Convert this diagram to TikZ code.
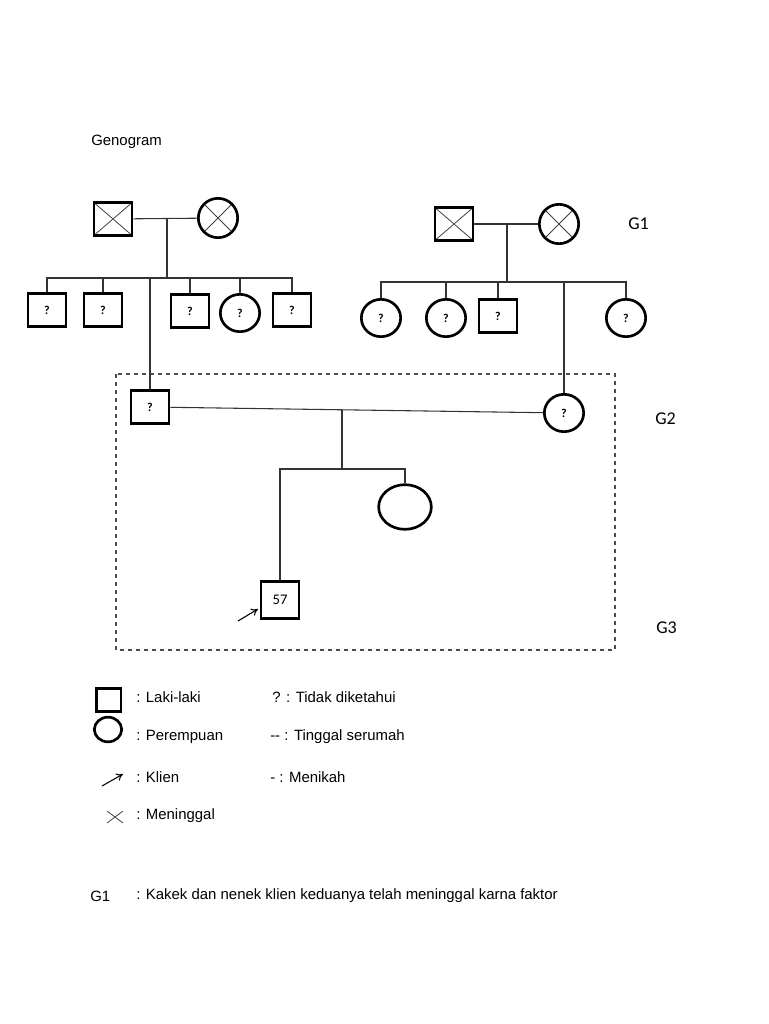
\documentclass[tikz,border=0pt]{standalone}
\usepackage{fontspec}
\setmainfont{Liberation Sans}
\newfontfamily\calibri{Carlito}
\usetikzlibrary{shapes.geometric, arrows.meta}

\tikzset{
  male/.style={draw, rectangle, line width=2pt, inner sep=0pt, minimum width=28.5pt, minimum height=24.5pt, font=\calibri\bfseries\fontsize{9}{10}\selectfont},
  female/.style={draw, ellipse, line width=2pt, inner sep=0pt, minimum width=29.5pt, minimum height=28pt, font=\calibri\bfseries\fontsize{9}{10}\selectfont},
  dead/.style={path picture={\draw[line width=0.6pt, black!75] (path picture bounding box.north west) -- (path picture bounding box.south east) (path picture bounding box.south west) -- (path picture bounding box.north east);}},
  link/.style={line width=0.8pt, black!80},
  pointer/.style={-{To[length=5pt, width=6pt]}, line width=0.8pt},
  gen/.style={font=\calibri\fontsize{13.5}{16}\selectfont, anchor=west, inner sep=0pt},
  txt/.style={font=\fontsize{11.2}{13}\selectfont, anchor=west, inner sep=0pt}
}

\begin{document}
\begin{tikzpicture}[x=0.75pt, y=-0.75pt]
\useasboundingbox (0,0) rectangle (768,1024);
\node[txt] (title) at (91,142) {Genogram};

% G1, kiri
\node[male, dead] (gf1) at (113,219) {};
\node[female, dead, minimum height=29.5pt] (gm1) at (218,218) {};
\coordinate (mar1) at (167,219);
\coordinate (sib1) at (167,278);
\draw[link] (gf1) -- (gm1);
\draw[link] (mar1) -- (sib1);
\node[male] (a1) at (47,310) {?};
\node[male] (a2) at (103,310) {?};
\node[male] (a3) at (190,311) {?};
\node[female] (a4) at (240,313) {?};
\node[male] (a5) at (292,310) {?};
\foreach \n in {a1,a2,a3,a4,a5} \draw[link] (\n.north) |- (sib1);

% G1, kanan
\node[male, dead] (gf2) at (454,224) {};
\node[female, dead, minimum height=29.5pt] (gm2) at (559,224) {};
\coordinate (mar2) at (507,224);
\coordinate (sib2) at (507,282);
\draw[link] (gf2) -- (gm2);
\draw[link] (mar2) -- (sib2);
\node[female] (b1) at (381,318) {?};
\node[female] (b2) at (446,318) {?};
\node[male] (b3) at (498,316) {?};
\node[female] (b4) at (626,318) {?};
\foreach \n in {b1,b2,b3,b4} \draw[link] (\n.north) |- (sib2);

% G2 dan G3
\draw[dashed, black!70, line width=0.8pt] (116,374) rectangle (615,650);
\node[male] (father) at (150,407) {?};
\node[female] (mother) at (564,413) {?};
\draw[link] (father.north) |- (sib1);
\draw[link] (mother.north) |- (sib2);
\draw[link] (father) -- (mother);
\coordinate (mar3) at (342,410);
\coordinate (sib3) at (342,469);
\draw[link] (mar3) -- (sib3);
\node[male, minimum height=27.5pt, font=\calibri\fontsize{11}{13}\selectfont] (client) at (280,600) {57};
\node[female, minimum width=39.5pt, minimum height=33.5pt] (sister) at (405,507) {};
\draw[link] (client.north) |- (sib3);
\draw[link] (sister.north) |- (sib3);
\coordinate (klien) at (238,621);
\coordinate (klientip) at (258,609);
\draw[pointer] (klien) -- (klientip);

\node[gen] (g1) at (628,224) {G1};
\node[gen] (g2) at (655,419) {G2};
\node[gen] (g3) at (656,628) {G3};

% keterangan
\node[male, minimum width=18.5pt, minimum height=17.5pt] (lmale) at (108.5,700) {};
\node[female, minimum width=20.5pt, minimum height=18.5pt] (lfemale) at (108,729.5) {};
\coordinate (la) at (102,786);
\coordinate (lb) at (123,774);
\draw[pointer] (la) -- (lb);
\node[dead, inner sep=0pt, minimum width=12pt, minimum height=9pt] (lx) at (115,817) {};
\node[txt] (t1) at (136,697) {: Laki-laki};
\node[txt] (t2) at (136,737) {: Perempuan};
\node[txt] (t3) at (136,777) {: Klien};
\node[txt] (t4) at (136,816) {: Meninggal};
\node[txt] (t5) at (272,697) {? : Tidak diketahui};
\node[txt] (t6) at (270,737) {{-}{-} : Tinggal serumah};
\node[txt] (t7) at (270,777) {- : Menikah};
\node[txt] (t8) at (90,896) {G1};
\node[txt] (t9) at (136,896) {: Kakek dan nenek klien keduanya telah meninggal karna faktor};
\end{tikzpicture}
\end{document}
